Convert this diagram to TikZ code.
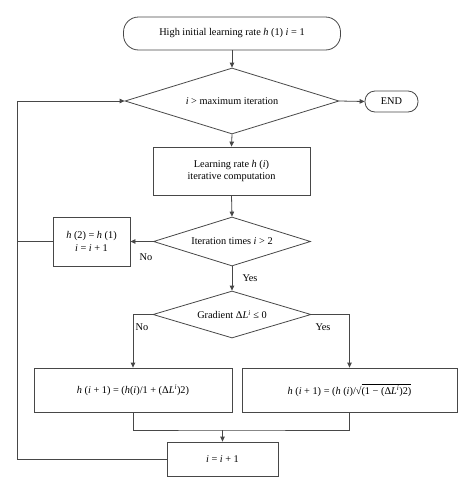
\documentclass[tikz,border=0pt]{standalone}
\usepackage{fontspec}
\setmainfont{Liberation Serif}
\usetikzlibrary{shapes.geometric,arrows.meta}
\begin{document}
\begin{tikzpicture}[x=1pt,y=-1pt,
  font=\fontsize{10.3}{12.5}\selectfont,
  line/.style={draw=black!72, line width=0.8pt},
  arr/.style={line, -{Triangle[length=5pt,width=4.5pt]}},
  box/.style={line, rectangle, inner sep=0pt, align=center},
  term/.style={line, rectangle, inner sep=0pt, align=center},
  dec/.style={line, diamond, inner sep=0pt, align=center},
  lab/.style={inner sep=0pt}]
\useasboundingbox (0,0) rectangle (474,493);
\node[term, rounded corners=15pt, minimum width=217pt, minimum height=33pt] (start) at (232,33.5)
  {High initial learning rate \textit{h} (1) \textit{i} = 1};
\node[dec, aspect=3.24, minimum width=214pt, minimum height=66pt] (d1) at (232,101)
  {\textit{i} > maximum iteration};
\node[term, rounded corners=10pt, minimum width=53pt, minimum height=21pt] (end) at (391.5,101.5) {END};
\node[box, minimum width=157pt, minimum height=48pt] (lr) at (231.5,171)
  {Learning rate \textit{h} (\textit{i})\\iterative computation};
\node[dec, aspect=3.2, minimum width=157pt, minimum height=49pt] (d2) at (232,241.5)
  {Iteration times \textit{i} > 2};
\node[box, minimum width=77pt, minimum height=49pt] (h2) at (91.5,241.5)
  {\textit{h} (2) = \textit{h} (1)\\\textit{i} = \textit{i} + 1};
\node[dec, aspect=3.36, minimum width=158pt, minimum height=47pt] (d3) at (232,314.5)
  {Gradient Δ\textit{L}\textsuperscript{\textit{i}} ≤ 0};
\node[box, minimum width=198pt, minimum height=44pt] (bl) at (133,390)
  {\textit{h} (\textit{i} + 1) = (\textit{h}(\textit{i})/1 + (Δ\textit{L}\textsuperscript{\textit{i}})2)};
\node[box, minimum width=215pt, minimum height=44pt] (br) at (349.5,390)
  {\textit{h} (\textit{i} + 1) = (\textit{h} (\textit{i})/√$\overline{\mbox{(1 − (Δ\textit{L}\textsuperscript{\textit{i}})2)}}$};
\node[box, minimum width=111pt, minimum height=34pt] (inc) at (222.5,459)
  {\textit{i} = \textit{i} + 1};
\coordinate (lc) at (17,101);
\coordinate (m) at (222.5,430);
\draw[arr] (start) -- (d1);
\draw[arr] (d1.east) -- (end.west);
\draw[arr] (d1.south) -- (lr.north);
\draw[arr] (lr.south) -- (d2.north);
\draw[arr] (d2.west) -- (h2.east);
\draw[arr] (d2.south) -- (d3.north);
\draw[arr] (d3.west) -| (bl.north);
\draw[arr] (d3.east) -| (br.north);
\draw[line] (bl.south) |- (m) -| (br.south);
\draw[arr] (m) -- (inc.north);
\draw[arr] (inc.west) -| (lc) -- (d1.west);
\draw[line] (h2.west) -- (lc |- h2.west);
\node[lab] (no1) at (146,257) {No};
\node[lab] (yes1) at (250,278) {Yes};
\node[lab] (no2) at (142,327) {No};
\node[lab] (yes2) at (323,327) {Yes};
\end{tikzpicture}
\end{document}
